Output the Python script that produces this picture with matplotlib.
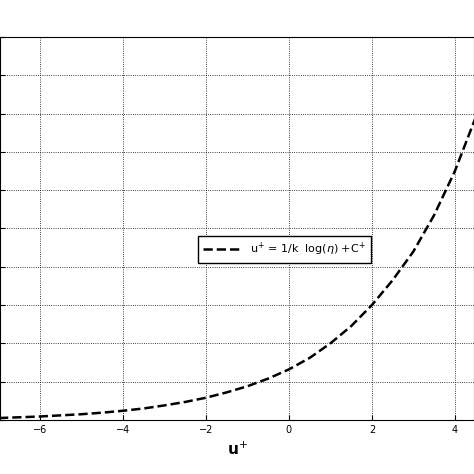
import matplotlib
matplotlib.use("Agg")
import matplotlib.pyplot as plt

u = [-7, -6.5, -6, -5.5, -5, -4.5, -4, -3.5, -3, -2.5, -2, -1.5, -1, -0.5, 0, 0.5, 1, 1.5, 2, 2.5, 3, 3.5, 4, 4.5]
eta = [0.05, 0.07, 0.09, 0.12, 0.15, 0.19, 0.24, 0.30, 0.38, 0.47, 0.58, 0.72, 0.88, 1.08, 1.32, 1.62, 2.0, 2.45, 3.0, 3.65, 4.4, 5.35, 6.5, 7.9]

fig = plt.figure(figsize=(4.74, 4.74), dpi=100)
ax = fig.add_axes([0.0, 0.114, 1.0, 0.808])
ax.plot(u, eta, 'k--', lw=1.8, label=r'u$^{+}$ = 1/k  log($\eta$) +C$^{+}$')
ax.set_xlim(-6.96, 4.46)
ax.set_ylim(0, 10)
ax.set_xticks([-6, -4, -2, 0, 2, 4])
ax.set_yticks(range(0, 11))
ax.set_yticklabels([])
ax.tick_params(labelsize=7, direction='in')
ax.grid(True, linestyle=':', color='k', lw=0.6)
ax.set_xlabel(r'u$^{+}$', fontsize=11, fontweight='bold')
ax.legend(loc='center', bbox_to_anchor=(0.6, 0.445), fontsize=8, fancybox=False, edgecolor='k', framealpha=1, handlelength=3.5)
fig.savefig("out.png", dpi=100)
